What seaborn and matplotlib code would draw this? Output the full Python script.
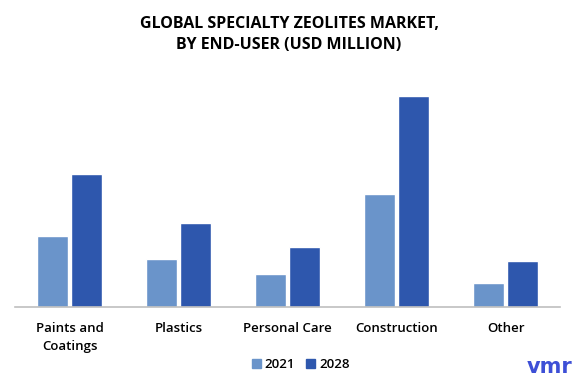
import matplotlib
matplotlib.use("Agg")
import matplotlib.pyplot as plt
import pandas as pd
import seaborn as sns

# values (relative bar heights)
categories = ["Paints and\nCoatings", "Plastics", "Personal Care", "Construction", "Other"]
years = ["2021", "2028"]
values_2021 = [71, 48, 33, 113, 24]
values_2028 = [133, 84, 60, 211, 46]

df = pd.DataFrame({
    "category": categories * 2,
    "year": [years[0]] * len(categories) + [years[1]] * len(categories),
    "value": values_2021 + values_2028,
})

sns.set_style("white")
plt.rcParams["font.family"] = ["Open Sans", "DejaVu Sans"]
plt.rcParams["text.color"] = "black"
plt.rcParams["xtick.color"] = "black"

fig = plt.figure(figsize=(5.78, 3.86), dpi=100)
ax = fig.add_axes([0.026, 0.2047, 0.943, 0.588])

palette = {"2021": "#6a94ca", "2028": "#2e57ad"}
sns.barplot(data=df, x="category", y="value", hue="year", palette=palette,
            width=0.62, gap=0.1, ax=ax, legend=False, saturation=1)

ax.set_ylim(0, 227)
ax.set_xlim(-0.5, 4.5)
ax.set_xlabel("")
ax.set_ylabel("")
ax.set_yticks([])
for s in ["top", "right", "left"]:
    ax.spines[s].set_visible(False)
ax.spines["bottom"].set_color("#bfbfbf")
ax.spines["bottom"].set_linewidth(1.2)
ax.tick_params(axis="x", length=0, pad=11)
for lab in ax.get_xticklabels():
    lab.set_fontsize(9.5)
    lab.set_fontweight("semibold")
    lab.set_linespacing(1.5)

fig.text(0.5, 0.91, "GLOBAL SPECIALTY ZEOLITES MARKET,\nBY END-USER (USD MILLION)",
         ha="center", va="center", fontsize=11.5, fontweight="bold", linespacing=1.45)

# legend
handles = [plt.Rectangle((0, 0), 1, 1, color=palette[y]) for y in years]
fig.legend(handles, years, loc="center", bbox_to_anchor=(0.52, 0.055), ncol=2,
           frameon=False, handlelength=0.7, handleheight=0.7, handletextpad=0.3,
           columnspacing=0.8, prop={"weight": "semibold", "size": 9.5})

# logo
fig.text(0.95, 0.05, "vmr", ha="center", va="center", fontsize=15,
         fontweight="bold", color="#3d4fd6", family="DejaVu Sans")

fig.savefig("out.png", dpi=100)
